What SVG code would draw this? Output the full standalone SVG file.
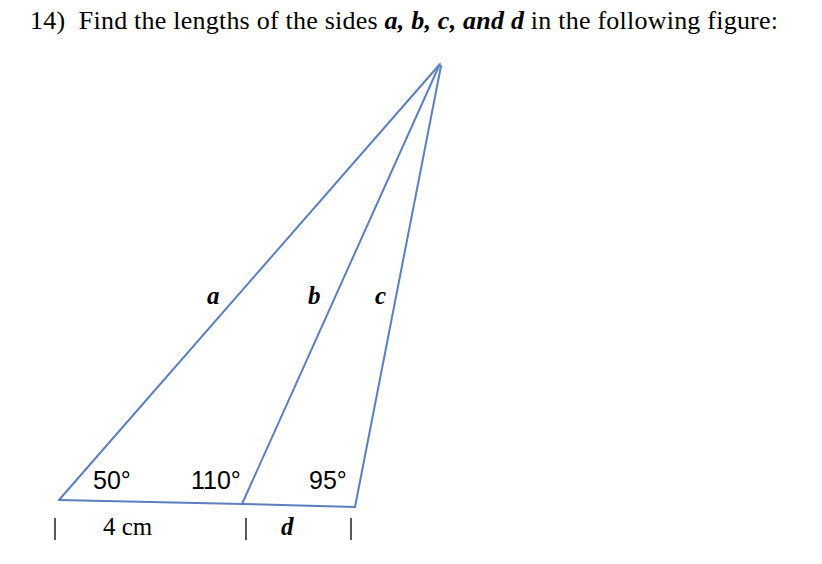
<svg xmlns="http://www.w3.org/2000/svg" width="822" height="564" viewBox="0 0 822 564">
<style>
.ln{stroke:#5b7fbf;stroke-width:2;fill:none;stroke-linecap:round}
.tk{stroke:#000;stroke-width:1.3}
.ser{font-family:"Liberation Serif","Times New Roman",serif;fill:#000}
.san{font-family:"Liberation Sans",Arial,sans-serif;fill:#000;font-size:25px}
.bi{font-weight:bold;font-style:italic}
</style>
<rect width="822" height="564" fill="#fff"/>
<g id="title"><text class="ser" x="30" y="29" font-size="26" textLength="748" xml:space="preserve">14)  Find the lengths of the sides <tspan class="bi">a, b, c, and d</tspan> in the following figure:</text></g>
<g id="connectors">
<line class="ln" x1="59" y1="500" x2="440" y2="64"/>
<line class="ln" x1="242" y1="504" x2="439" y2="66"/>
<line class="ln" x1="355" y1="507" x2="441" y2="66"/>
<polyline class="ln" points="59,500 242,504 355,507"/>
</g>
<g id="ticks">
<line class="tk" x1="55" y1="518" x2="55" y2="540"/>
<line class="tk" x1="246" y1="518" x2="246" y2="540"/>
<line class="tk" x1="351" y1="518" x2="351" y2="540"/>
</g>
<g id="labels">
<text class="san" x="93" y="489">50°</text>
<text class="san" x="191" y="489">110°</text>
<text class="san" x="309" y="489">95°</text>
<text class="ser" x="103" y="535" font-size="25" xml:space="preserve">4 cm</text>
<text class="ser bi" x="281" y="535" font-size="25">d</text>
<text class="ser bi" x="207" y="304" font-size="25">a</text>
<text class="ser bi" x="308" y="304" font-size="25">b</text>
<text class="ser bi" x="375" y="304" font-size="25">c</text>
</g>
</svg>
